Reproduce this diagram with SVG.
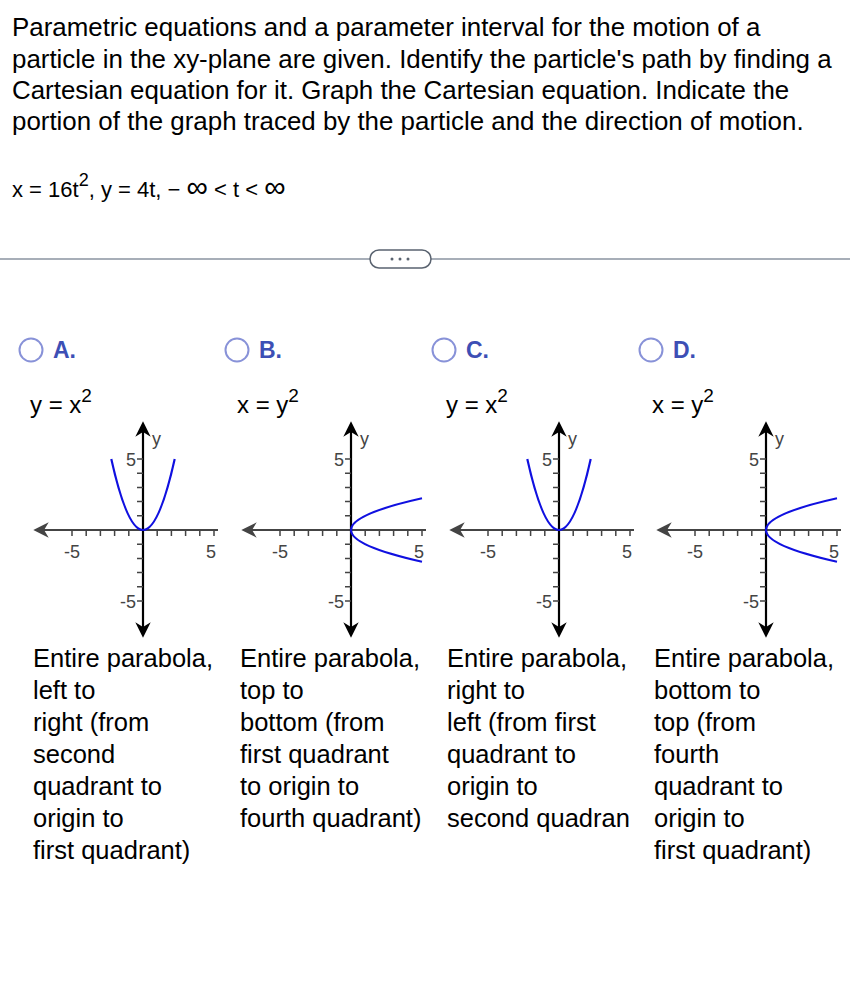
<svg xmlns="http://www.w3.org/2000/svg" width="850" height="998" viewBox="0 0 850 998">
<defs>
<style>
text{font-family:"Liberation Sans",Arial,sans-serif;fill:#000}
.t{font-size:25.5px}
.q{font-size:25.9px}
.o{font-size:23px;font-weight:bold;fill:#3d4fb5}
.e{font-size:24px}
.ax{stroke:#444;stroke-width:2.2;fill:none}
.tk{stroke:#444;stroke-width:1.5}
.lb{font-size:18px;fill:#444}
.cv{stroke:#1010e0;stroke-width:2.2;fill:none}
</style>
<marker id="ar" viewBox="0 0 10 10" refX="5" refY="5" markerWidth="7" markerHeight="7" orient="auto-start-reverse"><path d="M0,0 L10,5 L0,10 L3,5 Z" fill="#000"/></marker>
<marker id="ag" viewBox="0 0 10 10" refX="5" refY="5" markerWidth="7" markerHeight="7" orient="auto-start-reverse"><path d="M0,0 L10,5 L0,10 L3,5 Z" fill="#444"/></marker>
<g id="axes">
<path d="M-102,0 H75" class="ax" marker-start="url(#ag)"/>
<path d="M0,-101 V100" stroke="#000" stroke-width="2.2" marker-start="url(#ar)" marker-end="url(#ar)"/>
<path class="tk" d="M-71,0v6M-56.8,0v6M-42.6,0v6M-28.4,0v6M-14.2,0v6M14.2,0v6M28.4,0v6M42.6,0v6M56.8,0v6M71,0v6M0,-71h-6M0,-56.8h-6M0,-42.6h-6M0,-28.4h-6M0,-14.2h-6M0,14.2h-6M0,28.4h-6M0,42.6h-6M0,56.8h-6M0,71h-6"/>
<text class="lb" x="-71" y="28" text-anchor="middle">-5</text>
<text class="lb" x="68" y="28" text-anchor="middle">5</text>
<text class="lb" x="-7" y="-64" text-anchor="end">5</text>
<text class="lb" x="-7" y="78" text-anchor="end">-5</text>
<text class="lb" x="9" y="-85">y</text>
</g>
</defs>
<g id="question">
<text class="q" x="12" y="36">Parametric equations and a parameter interval for the motion of a</text>
<text class="q" x="12" y="68">particle in the xy-plane are given. Identify the particle's path by finding a</text>
<text class="q" x="12" y="99">Cartesian equation for it. Graph the Cartesian equation. Indicate the</text>
<text class="q" x="12" y="130">portion of the graph traced by the particle and the direction of motion.</text>
<text x="12" y="197" font-size="22">x = 16t<tspan dy="-11" font-size="18">2</tspan><tspan dy="11">, y = 4t,  − </tspan><tspan font-size="30">∞</tspan> &lt; t &lt; <tspan font-size="30">∞</tspan></text>
</g>
<g id="separator">
<line x1="0" y1="259" x2="850" y2="259" stroke="#8a93a0" stroke-width="1.5"/>
<rect x="370" y="250" width="61" height="18" rx="9" fill="#fff" stroke="#5a6370" stroke-width="1.5"/>
<circle cx="392" cy="259" r="1.5" fill="#5a6370"/><circle cx="400" cy="259" r="1.5" fill="#5a6370"/><circle cx="408" cy="259" r="1.5" fill="#5a6370"/>
</g>
<g id="optA">
<circle cx="31" cy="350" r="11.5" fill="none" stroke="#8892d8" stroke-width="2"/>
<text class="o" x="53" y="358">A.</text>
<text class="e" x="30" y="413">y = x<tspan dy="-11" font-size="19">2</tspan></text>
<use href="#axes" x="143" y="530"/>
<path class="cv" d="M111.3,459 Q143,601 174.7,459"/>
<text class="t" x="33" y="667">Entire parabola,</text><text class="t" x="33" y="699">left to</text><text class="t" x="33" y="731">right (from</text><text class="t" x="33" y="763">second</text><text class="t" x="33" y="795">quadrant to</text><text class="t" x="33" y="827">origin to</text><text class="t" x="33" y="859">first quadrant)</text>
</g>
<g id="optB">
<circle cx="237" cy="350" r="11.5" fill="none" stroke="#8892d8" stroke-width="2"/>
<text class="o" x="259" y="358">B.</text>
<text class="e" x="237" y="413">x = y<tspan dy="-11" font-size="19">2</tspan></text>
<use href="#axes" x="351" y="530"/>
<path class="cv" d="M422,498.3 Q280,530 422,561.7"/>
<text class="t" x="240" y="667">Entire parabola,</text><text class="t" x="240" y="699">top to</text><text class="t" x="240" y="731">bottom (from</text><text class="t" x="240" y="763">first quadrant</text><text class="t" x="240" y="795">to origin to</text><text class="t" x="240" y="827">fourth quadrant)</text>
</g>
<g id="optC">
<circle cx="444" cy="350" r="11.5" fill="none" stroke="#8892d8" stroke-width="2"/>
<text class="o" x="466" y="358">C.</text>
<text class="e" x="446" y="413">y = x<tspan dy="-11" font-size="19">2</tspan></text>
<use href="#axes" x="559" y="530"/>
<path class="cv" d="M527.3,459 Q559,601 590.7,459"/>
<text class="t" x="447" y="667">Entire parabola,</text><text class="t" x="447" y="699">right to</text><text class="t" x="447" y="731">left (from first</text><text class="t" x="447" y="763">quadrant to</text><text class="t" x="447" y="795">origin to</text><text class="t" x="447" y="827">second quadran</text>
</g>
<g id="optD">
<circle cx="651" cy="350" r="11.5" fill="none" stroke="#8892d8" stroke-width="2"/>
<text class="o" x="673" y="358">D.</text>
<text class="e" x="652" y="413">x = y<tspan dy="-11" font-size="19">2</tspan></text>
<use href="#axes" x="766" y="530"/>
<path class="cv" d="M837,498.3 Q695,530 837,561.7"/>
<text class="t" x="654" y="667">Entire parabola,</text><text class="t" x="654" y="699">bottom to</text><text class="t" x="654" y="731">top (from</text><text class="t" x="654" y="763">fourth</text><text class="t" x="654" y="795">quadrant to</text><text class="t" x="654" y="827">origin to</text><text class="t" x="654" y="859">first quadrant)</text>
</g>
</svg>
